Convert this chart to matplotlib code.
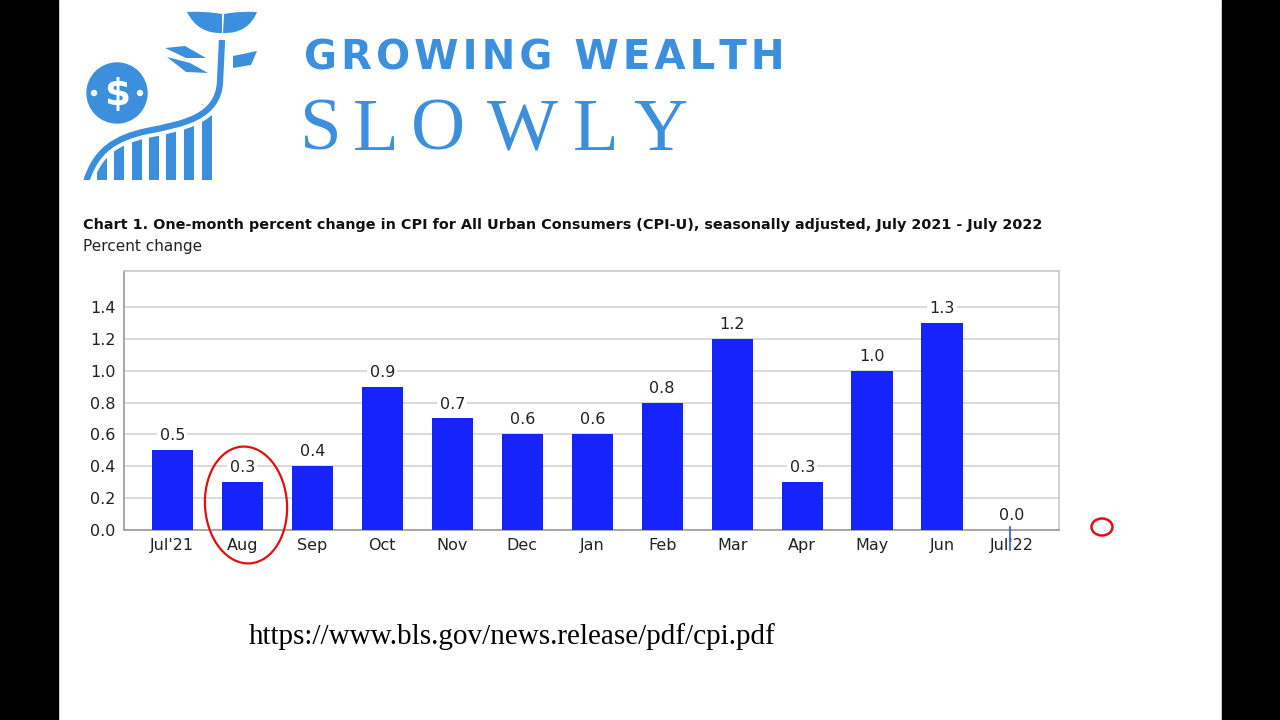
import matplotlib
matplotlib.use('Agg')
import matplotlib.pyplot as plt
from matplotlib.patches import Rectangle, Circle, Ellipse, Polygon
from matplotlib.path import Path
from matplotlib.patches import PathPatch

months = ["Jul'21", 'Aug', 'Sep', 'Oct', 'Nov', 'Dec', 'Jan', 'Feb', 'Mar', 'Apr', 'May', 'Jun', "Jul'22"]
pct_change = [0.5, 0.3, 0.4, 0.9, 0.7, 0.6, 0.6, 0.8, 1.2, 0.3, 1.0, 1.3, 0.0]
y_ticks = [0.0, 0.2, 0.4, 0.6, 0.8, 1.0, 1.2, 1.4]

logo_blue = '#3b8fdc'
bar_blue = '#1424fa'

fig = plt.figure(figsize=(12.8, 7.2), dpi=100)
fig.patch.set_facecolor('white')

# overlay in pixel coords for slide decoration
ov = fig.add_axes([0, 0, 1, 1])
ov.set_xlim(0, 1280)
ov.set_ylim(720, 0)
ov.axis('off')
ov.add_patch(Rectangle((0, 0), 58, 720, color='black'))
ov.add_patch(Rectangle((1222, 0), 58, 720, color='black'))

# logo: coin
ov.add_patch(Circle((117, 93), 30, color=logo_blue))
ov.text(117, 95, '$', color='white', fontsize=27, fontweight='bold', ha='center', va='center')
ov.add_patch(Circle((94, 93), 2.5, color='white'))
ov.add_patch(Circle((140, 93), 2.5, color='white'))
# logo: bars (tops get cut by the stem)
bar_x = [97, 114, 132, 149, 166, 184, 202]
bar_top = [150, 138, 132, 128, 124, 116, 104]
for bx, bt in zip(bar_x, bar_top):
    ov.add_patch(Rectangle((bx, bt), 10, 180 - bt, color=logo_blue, lw=0))
# logo: stem
stem = Path([(86, 182), (96, 150), (115, 138), (147, 131),
             (182, 124), (218, 118), (220, 82), (222, 40)],
            [Path.MOVETO, Path.CURVE4, Path.CURVE4, Path.CURVE4,
             Path.CURVE4, Path.CURVE4, Path.CURVE4, Path.LINETO])
ov.add_patch(PathPatch(stem, fill=False, ec='white', lw=10, capstyle='butt'))
ov.add_patch(PathPatch(stem, fill=False, ec=logo_blue, lw=4.5, capstyle='butt'))
ov.add_patch(Rectangle((60, 180), 200, 8, color='white', lw=0))
# logo: leaves
leaf_l = Path([(187, 12), (205, 11), (222, 14), (222, 33), (198, 34), (187, 12)],
              [Path.MOVETO, Path.CURVE3, Path.CURVE3, Path.LINETO, Path.CURVE3, Path.CURVE3])
leaf_r = Path([(257, 12), (239, 11), (224, 14), (223, 33), (248, 34), (257, 12)],
              [Path.MOVETO, Path.CURVE3, Path.CURVE3, Path.LINETO, Path.CURVE3, Path.CURVE3])
ov.add_patch(PathPatch(leaf_l, color=logo_blue, lw=0))
ov.add_patch(PathPatch(leaf_r, color=logo_blue, lw=0))
ov.add_patch(Polygon([(165, 48), (185, 46), (206, 58), (186, 58)], color=logo_blue, lw=0))
ov.add_patch(Polygon([(167, 57), (190, 63), (208, 73), (186, 72)], color=logo_blue, lw=0))
ov.add_patch(Polygon([(233, 56), (257, 51), (251, 65), (233, 68)], color=logo_blue, lw=0))

ov.text(304, 59, '\u200a'.join('GROWING WEALTH'), color=logo_blue, fontsize=29, fontweight='bold',
        family='DejaVu Sans', va='center', ha='left')
# SLOWLY, letter-spaced
for ch, cx in zip('SLOWLY', [321, 376, 438, 522, 596, 660]):
    ov.text(cx, 150, ch, color=logo_blue, fontsize=54, family='Liberation Serif',
            va='baseline', ha='center')

ov.text(83, 225, 'Chart 1. One-month percent change in CPI for All Urban Consumers (CPI-U), seasonally adjusted, July 2021 - July 2022',
        fontsize=10.4, fontweight='semibold', va='center', ha='left', color='#111111')
ov.text(83, 246, 'Percent change', fontsize=11, va='center', ha='left', color='#222222')

ov.text(249, 637, 'https://www.bls.gov/news.release/pdf/cpi.pdf', family='Liberation Serif',
        fontsize=21, va='center', ha='left', color='black')

# chart
ax = fig.add_axes([124 / 1280, 1 - 530 / 720, (1059 - 124) / 1280, (530 - 271) / 720])
x = range(len(months))
ax.bar(x, pct_change, width=0.59, color=bar_blue, zorder=3)
ax.set_xlim(-0.69, 12.67)
ax.set_ylim(0, 1.626)
ax.set_yticks(y_ticks)
ax.set_yticklabels([f'{v:.1f}' for v in y_ticks])
ax.set_xticks(list(x))
ax.set_xticklabels(months)
ax.yaxis.grid(True, color='#d4d4d4', lw=1.2, zorder=0)
ax.set_axisbelow(True)
for s in ax.spines.values():
    s.set_color('#c8c8c8')
    s.set_linewidth(1.2)
ax.spines['left'].set_color('#9a9a9a')
ax.spines['bottom'].set_color('#9a9a9a')
ax.tick_params(axis='y', length=0, labelsize=11.5, pad=6, colors='#222222')
ax.tick_params(axis='x', length=0, labelsize=11.5, pad=6, colors='#222222')
for i, v in enumerate(pct_change):
    ax.annotate(f'{v:.1f}', (i, v), xytext=(0, 5), textcoords='offset points', ha='center', va='bottom',
                fontsize=11.5, color='#222222', zorder=4,
                bbox=dict(boxstyle='square,pad=0.15', fc='white', ec='none'))

# hand annotations
ov2 = fig.add_axes([0, 0, 1, 1])
ov2.set_xlim(0, 1280)
ov2.set_ylim(720, 0)
ov2.axis('off')
ov2.add_patch(Ellipse((246, 505), 82, 117, angle=-4, fill=False, ec='#e01010', lw=1.6))
ov2.add_patch(Ellipse((1102, 527), 21, 17, fill=False, ec='#e01010', lw=1.8))
ov2.plot([1010, 1010], [527, 550], color='#3a50ff', lw=1.2)

fig.savefig('out.png', dpi=100)
